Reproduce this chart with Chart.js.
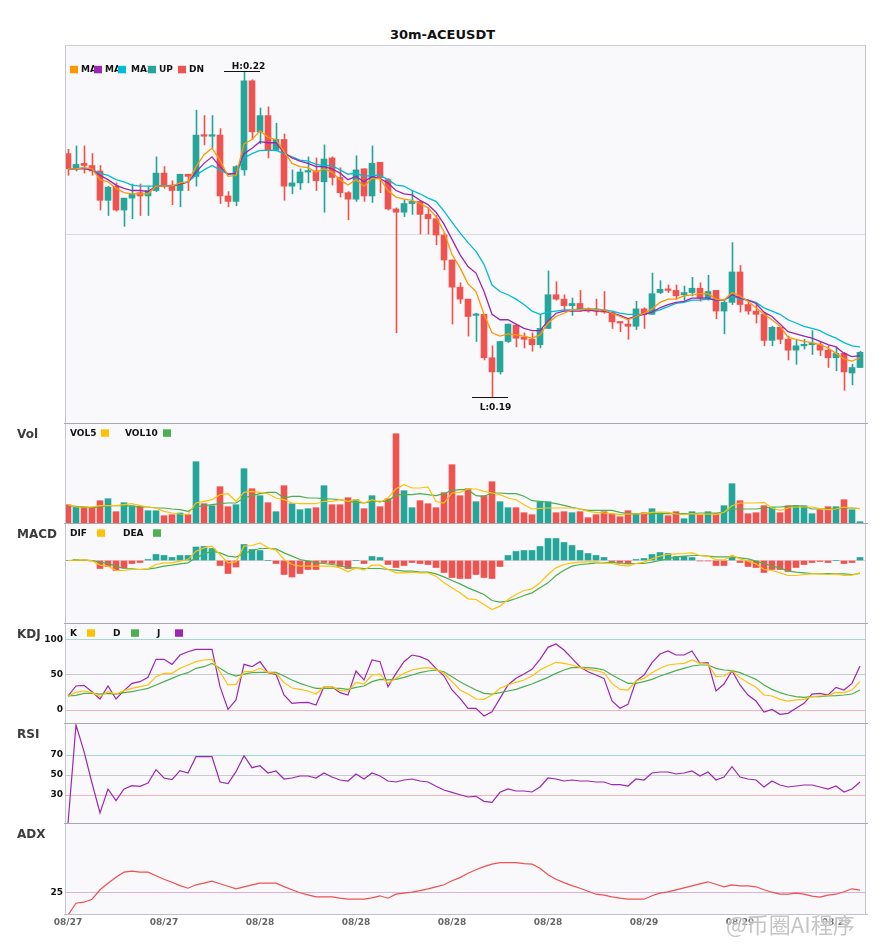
<!DOCTYPE html>
<html>
<head>
<meta charset="utf-8">
<title>30m-ACEUSDT</title>
<script src="https://cdn.jsdelivr.net/npm/chart.js@4.4.1/dist/chart.umd.min.js"></script>
<style>
  body { margin: 0; background: #fff; width: 885px; height: 950px; position: relative; overflow: hidden; font-family: "DejaVu Sans", sans-serif; }
  #title { position: absolute; top: 27px; left: 0; width: 885px; text-align: center; font-weight: bold; font-size: 13px; line-height: 15px; color: #111; }
  canvas { position: absolute; left: 0; display: block; }
  #mark { position: absolute; left: 726px; top: 909px; font-family: "Noto Sans CJK SC", sans-serif; font-size: 22px; line-height: 28px; color: rgba(150,150,150,0.55); text-shadow: 0 0 2px #fff, 0 0 2px #fff; white-space: nowrap; }
</style>
</head>
<body>
<div id="title">30m-ACEUSDT</div>
<canvas id="mainChart" width="885" height="379" style="top:45px"></canvas>
<canvas id="volChart" width="885" height="100" style="top:424px"></canvas>
<canvas id="macdChart" width="885" height="100" style="top:524px"></canvas>
<canvas id="kdjChart" width="885" height="100" style="top:624px"></canvas>
<canvas id="rsiChart" width="885" height="100" style="top:724px"></canvas>
<canvas id="adxChart" width="885" height="126" style="top:824px"></canvas>
<div id="mark">@币圈AI程序</div>
<script>
// datos, velas de 30m
const opens = [
 0.2125,0.2111,0.2116,0.2114,0.2109,0.2082,0.2095,0.2073,0.2084,0.2089,
 0.2086,0.2091,0.2107,0.2096,0.2091,0.2106,0.2104,0.2142,0.2141,0.2142,
 0.2086,0.2081,0.2110,0.2192,0.2145,0.2160,0.2128,0.2138,0.2095,0.2098,
 0.2108,0.2109,0.2099,0.2121,0.2103,0.2089,0.2083,0.2111,0.2086,0.2117,
 0.2101,0.2074,0.2071,0.2079,0.2081,0.2069,0.2065,0.2050,0.2027,0.2002,
 0.1991,0.1976,0.1977,0.1937,0.1924,0.1952,0.1967,0.1956,0.1954,0.1949,
 0.1964,0.1995,0.1991,0.1985,0.1987,0.1982,0.1981,0.1981,0.1979,0.1970,
 0.1968,0.1966,0.1982,0.1977,0.1997,0.2000,0.1999,0.1995,0.1997,0.2001,
 0.1992,0.1999,0.1980,0.1988,0.2016,0.1986,0.1980,0.1977,0.1953,0.1965,
 0.1954,0.1944,0.1948,0.1949,0.1949,0.1944,0.1937,0.1941,0.1923,0.1928]
const highs = [
 0.2129,0.2132,0.2132,0.2125,0.2114,0.2095,0.2098,0.2084,0.2097,0.2097,
 0.2095,0.2122,0.2113,0.2100,0.2106,0.2106,0.2165,0.2160,0.2160,0.2148,
 0.2090,0.2114,0.2200,0.2193,0.2167,0.2168,0.2153,0.2143,0.2110,0.2111,
 0.2122,0.2121,0.2133,0.2122,0.2112,0.2090,0.2123,0.2111,0.2132,0.2117,
 0.2102,0.2075,0.2082,0.2091,0.2082,0.2075,0.2068,0.2052,0.2027,0.2006,
 0.1991,0.1978,0.1977,0.1948,0.1952,0.1968,0.1967,0.1960,0.1960,0.1977,
 0.2017,0.2007,0.1995,0.1992,0.1999,0.1983,0.1991,0.1998,0.1979,0.1970,
 0.1972,0.1989,0.1983,0.2015,0.2008,0.2004,0.2004,0.2003,0.2011,0.2006,
 0.2013,0.1999,0.1991,0.2043,0.2022,0.1989,0.1987,0.1978,0.1966,0.1965,
 0.1957,0.1953,0.1954,0.1962,0.1952,0.1948,0.1947,0.1942,0.1931,0.1943]
const lows = [
 0.2105,0.2109,0.2107,0.2105,0.2073,0.2068,0.2072,0.2058,0.2065,0.2068,
 0.2068,0.2090,0.2093,0.2078,0.2076,0.2091,0.2095,0.2133,0.2130,0.2079,
 0.2076,0.2077,0.2105,0.2138,0.2134,0.2121,0.2128,0.2082,0.2088,0.2092,
 0.2098,0.2091,0.2071,0.2096,0.2085,0.2064,0.2081,0.2081,0.2080,0.2089,
 0.2073,0.1960,0.2067,0.2069,0.2051,0.2051,0.2041,0.2018,0.1968,0.1987,
 0.1957,0.1952,0.1935,0.1901,0.1922,0.1951,0.1947,0.1946,0.1943,0.1946,
 0.1964,0.1990,0.1981,0.1976,0.1980,0.1979,0.1976,0.1978,0.1964,0.1961,
 0.1954,0.1963,0.1964,0.1977,0.1996,0.1997,0.1991,0.1990,0.1994,0.1989,
 0.1990,0.1973,0.1959,0.1986,0.1979,0.1977,0.1969,0.1948,0.1948,0.1950,
 0.1935,0.1931,0.1945,0.1940,0.1939,0.1928,0.1925,0.1907,0.1912,0.1928]
const closes = [
 0.2111,0.2115,0.2114,0.2109,0.2082,0.2094,0.2073,0.2084,0.2088,0.2086,
 0.2091,0.2107,0.2095,0.2091,0.2106,0.2104,0.2142,0.2141,0.2142,0.2086,
 0.2081,0.2113,0.2192,0.2145,0.2160,0.2128,0.2138,0.2095,0.2098,0.2108,
 0.2109,0.2100,0.2120,0.2103,0.2089,0.2083,0.2110,0.2086,0.2116,0.2103,
 0.2074,0.2071,0.2079,0.2081,0.2069,0.2065,0.2050,0.2027,0.2002,0.1991,
 0.1975,0.1977,0.1937,0.1924,0.1952,0.1968,0.1955,0.1954,0.1949,0.1964,
 0.1995,0.1991,0.1985,0.1987,0.1981,0.1980,0.1980,0.1979,0.1970,0.1969,
 0.1966,0.1982,0.1977,0.1996,0.2000,0.1999,0.1994,0.1997,0.2001,0.1992,
 0.1998,0.1980,0.1988,0.2016,0.1986,0.1980,0.1977,0.1953,0.1965,0.1954,
 0.1944,0.1948,0.1949,0.1950,0.1944,0.1937,0.1941,0.1924,0.1928,0.1942]

const ma5 = [
 0.2111,0.2111,0.2112,0.2111,0.2101,0.2099,0.2093,0.2089,0.2088,0.2088,
 0.2088,0.2095,0.2095,0.2095,0.2098,0.2099,0.2113,0.2124,0.2130,0.2119,
 0.2104,0.2105,0.2134,0.2138,0.2146,0.2140,0.2138,0.2127,0.2116,0.2113,
 0.2112,0.2108,0.2111,0.2108,0.2101,0.2096,0.2101,0.2095,0.2102,0.2102,
 0.2091,0.2085,0.2083,0.2082,0.2079,0.2075,0.2067,0.2053,0.2032,0.2020,
 0.2005,0.1998,0.1977,0.1960,0.1957,0.1959,0.1958,0.1957,0.1955,0.1958,
 0.1969,0.1975,0.1978,0.1981,0.1981,0.1982,0.1981,0.1981,0.1978,0.1975,
 0.1972,0.1975,0.1978,0.1982,0.1988,0.1991,0.1991,0.1994,0.1995,0.1996,
 0.1996,0.1991,0.1990,0.1997,0.1994,0.1989,0.1983,0.1977,0.1972,0.1966,
 0.1956,0.1954,0.1952,0.1951,0.1949,0.1946,0.1941,0.1936,0.1934,0.1937]
const ma10 = [
 0.2111,0.2111,0.2111,0.2110,0.2105,0.2101,0.2096,0.2093,0.2091,0.2091,
 0.2090,0.2095,0.2095,0.2095,0.2097,0.2099,0.2108,0.2116,0.2122,0.2113,
 0.2106,0.2107,0.2125,0.2130,0.2136,0.2135,0.2135,0.2126,0.2121,0.2118,
 0.2116,0.2113,0.2113,0.2111,0.2107,0.2101,0.2104,0.2099,0.2104,0.2102,
 0.2098,0.2091,0.2088,0.2087,0.2082,0.2078,0.2071,0.2060,0.2046,0.2032,
 0.2021,0.2015,0.1998,0.1977,0.1972,0.1972,0.1968,0.1964,0.1962,0.1962,
 0.1971,0.1978,0.1980,0.1980,0.1980,0.1981,0.1980,0.1980,0.1978,0.1976,
 0.1973,0.1975,0.1977,0.1979,0.1983,0.1986,0.1988,0.1989,0.1992,0.1992,
 0.1992,0.1990,0.1990,0.1995,0.1992,0.1990,0.1987,0.1979,0.1975,0.1968,
 0.1961,0.1959,0.1957,0.1955,0.1952,0.1949,0.1947,0.1941,0.1938,0.1939]
const ma20 = [
 0.2111,0.2111,0.2112,0.2110,0.2107,0.2105,0.2101,0.2099,0.2096,0.2095,
 0.2095,0.2095,0.2096,0.2095,0.2097,0.2099,0.2105,0.2110,0.2114,0.2110,
 0.2106,0.2107,0.2121,0.2125,0.2128,0.2128,0.2128,0.2125,0.2122,0.2119,
 0.2118,0.2115,0.2114,0.2114,0.2110,0.2106,0.2107,0.2104,0.2105,0.2105,
 0.2101,0.2096,0.2095,0.2091,0.2088,0.2084,0.2081,0.2072,0.2062,0.2052,
 0.2043,0.2035,0.2023,0.2004,0.1998,0.1995,0.1991,0.1986,0.1980,0.1977,
 0.1979,0.1980,0.1981,0.1981,0.1982,0.1982,0.1982,0.1981,0.1980,0.1978,
 0.1977,0.1977,0.1977,0.1979,0.1981,0.1984,0.1987,0.1988,0.1990,0.1990,
 0.1991,0.1990,0.1990,0.1994,0.1991,0.1990,0.1988,0.1983,0.1980,0.1977,
 0.1972,0.1969,0.1966,0.1964,0.1962,0.1958,0.1955,0.1951,0.1948,0.1947]

// volumen (miles)
const volumes = [
 193,170,170,160,233,253,123,213,183,177,
 133,133,83,93,110,93,623,203,183,373,
 173,193,553,353,283,213,123,383,203,143,
 153,163,383,193,193,263,243,153,283,173,
 253,903,333,163,233,203,163,313,593,283,
 353,223,283,423,223,163,163,113,93,223,
 223,113,123,113,123,63,93,123,103,73,
 133,103,113,153,113,83,123,53,123,93,
 123,103,183,403,233,103,113,183,163,113,
 183,183,183,103,143,173,173,243,143,23]
const vol5 = [
 193,170,170,170,183,183,183,193,203,183,
 170,160,127,110,100,95,210,227,243,293,
 303,227,317,327,317,303,260,243,210,203,
 203,203,227,227,243,227,243,210,243,217,
 260,353,393,360,360,370,225,210,310,317,
 350,350,327,310,293,260,243,193,150,157,
 160,160,160,160,150,127,117,110,103,93,
 100,100,103,117,120,117,100,93,103,93,
 100,93,117,183,210,210,210,217,160,137,
 160,170,170,170,153,143,150,170,160,153]
const vol10 = [
 183,177,170,163,170,183,183,183,177,170,
 170,160,160,150,143,127,170,183,193,203,
 210,210,260,283,303,317,317,260,277,277,
 260,260,253,250,243,227,217,210,227,227,
 227,293,293,293,303,293,283,303,337,343,
 343,283,277,310,310,303,303,277,233,227,
 217,203,187,167,150,137,137,137,137,117,
 103,103,103,103,103,103,103,103,103,110,
 110,110,117,150,150,150,150,160,170,170,
 177,183,177,150,150,150,150,160,160,153]

const macdHist = [
 0,0.00002,0.00001,-0.00001,-0.00016,-0.00012,-0.0002,-0.00015,-0.00006,-0.00004,
 0.00002,0.00012,0.0001,0.00006,0.0001,0.0001,0.00027,0.00028,0.00024,-0.0001,
 -0.00026,-0.00013,0.00032,0.00022,0.0002,0,-0.00006,-0.00028,-0.00033,-0.00026,
 -0.00018,-0.00018,-0.00004,-0.00006,-0.00012,-0.00016,0,-0.00006,0.00008,0.00006,
 -0.00008,-0.00014,-0.0001,-0.00004,-0.00006,-0.00008,-0.00014,-0.00024,-0.00034,-0.00036,
 -0.00036,-0.00028,-0.00034,-0.00036,-0.00012,0.0001,0.00018,0.0002,0.0002,0.00028,
 0.00044,0.00044,0.00036,0.0003,0.0002,0.00014,0.0001,0.00006,-0.00002,-0.00004,
 -0.00006,0.00002,0.00004,0.00012,0.00016,0.00014,0.00008,0.00008,0.00006,-0.00001,
 -0.00001,-0.0001,-0.0001,0.00006,-0.00004,-0.00012,-0.00014,-0.00024,-0.00018,-0.00018,
 -0.00022,-0.00014,-0.00008,-0.00004,-0.00002,-0.00004,0,-0.00006,-0.00004,0.00006]
const dif = [
 0,0.000007,0.000013,-0.000007,-0.000093,-0.000113,-0.0002,-0.0002,-0.00018,-0.00018,
 -0.000167,-0.00008,-0.000047,-0.000047,-0.000013,0.00002,0.000187,0.000253,0.000287,0.00012,
 -0.000047,-0.000027,0.000287,0.0003,0.000353,0.000253,0.000207,0.00002,-0.00008,-0.000113,
 -0.000113,-0.000113,-0.000113,-0.000113,-0.000147,-0.000227,-0.000147,-0.000193,-0.000093,-0.000093,
 -0.00018,-0.000247,-0.000247,-0.000233,-0.000247,-0.000247,-0.000313,-0.000447,-0.000547,-0.000647,
 -0.000767,-0.00078,-0.00088,-0.00098,-0.000913,-0.00078,-0.00068,-0.0006,-0.000567,-0.000447,
 -0.00028,-0.000147,-0.00008,-0.000047,-0.000033,-0.000027,-0.000027,-0.000047,-0.00006,-0.000093,
 -0.000113,-0.00006,-0.000033,0.000033,0.000087,0.00012,0.000133,0.00014,0.000153,0.0001,
 0.000087,0.00002,0.000007,0.000107,0.000033,-0.000013,-0.000067,-0.00018,-0.0002,-0.000247,
 -0.0003,-0.0003,-0.00028,-0.000267,-0.000267,-0.00028,-0.000267,-0.0003,-0.000293,-0.000247]
const dea = [
 0,0,0.000007,0,-0.000033,-0.00006,-0.000113,-0.00016,-0.000167,-0.00018,
 -0.000173,-0.000147,-0.000113,-0.000093,-0.000067,-0.000047,0.000053,0.000133,0.000187,0.000153,
 0.000087,0.000067,0.00014,0.0002,0.00024,0.00024,0.000233,0.000153,0.000087,0.00002,
 -0.000013,-0.000047,-0.00006,-0.00008,-0.0001,-0.000147,-0.000147,-0.00016,-0.00016,-0.00016,
 -0.00018,-0.000193,-0.000213,-0.000213,-0.000233,-0.000233,-0.000267,-0.000327,-0.0004,-0.000467,
 -0.000547,-0.000613,-0.00068,-0.0008,-0.000833,-0.000813,-0.00076,-0.0007,-0.000647,-0.000547,
 -0.000447,-0.0003,-0.000193,-0.000113,-0.00008,-0.000067,-0.000047,-0.000047,-0.000033,-0.00006,
 -0.000067,-0.00006,-0.00006,-0.000033,0,0.000033,0.000073,0.000087,0.0001,0.0001,
 0.000087,0.000073,0.000073,0.000073,0.000053,0.000033,-0.000013,-0.00006,-0.000113,-0.000147,
 -0.000213,-0.000233,-0.000247,-0.00026,-0.000267,-0.00026,-0.000267,-0.000267,-0.00028,-0.00026]

const kLine = [
 19.8,25.0,26.9,24.5,18.9,25.9,22.6,27.4,30.7,33.0,
 35.4,47.2,51.9,51.9,59.0,63.7,68.4,70.8,71.7,54.2,
 35.4,36.3,54.2,54.2,59.0,53.3,51.9,38.7,31.1,29.2,
 26.9,22.6,33.0,33.0,27.4,26.9,39.2,36.8,49.5,50.9,
 37.7,44.8,51.9,56.6,59.0,59.9,57.5,51.9,40.1,28.3,
 22.6,15.6,15.1,21.2,30.7,35.4,39.2,42.5,48.1,56.6,
 62.3,67.5,66.0,63.7,60.4,57.5,55.7,52.8,37.7,29.2,
 28.3,41.0,44.8,52.8,59.0,63.7,65.1,66.0,70.8,66.0,
 65.1,47.2,48.1,55.7,45.8,38.7,32.1,21.2,19.8,15.1,
 12.7,14.2,15.1,18.9,19.8,20.3,25.0,24.5,28.3,40.1]
const dLine = [
 19.8,20.8,23.6,23.6,22.6,23.6,22.6,24.5,25.9,28.3,
 30.7,35.4,40.1,44.8,49.5,52.8,59.0,61.3,66.0,59.0,
 51.9,48.1,50.9,52.8,53.3,53.3,53.3,48.1,42.5,37.7,
 34.0,30.7,30.7,30.7,30.7,29.2,32.1,34.0,40.1,43.4,
 42.5,43.4,46.2,49.5,52.8,55.2,56.6,54.2,47.2,40.1,
 34.0,28.3,23.6,22.6,24.5,26.9,29.2,33.0,36.8,41.5,
 46.2,51.9,56.6,59.9,60.4,59.9,59.0,56.6,49.5,43.4,
 37.7,37.7,40.1,43.4,48.1,51.9,55.7,59.0,62.3,63.7,
 63.7,59.0,56.6,55.7,52.8,48.1,43.4,35.4,29.2,24.5,
 21.2,18.9,17.9,18.9,18.9,19.8,20.3,21.2,22.6,28.3]
const jLine = [
 19.8,34.0,34.9,25.9,15.6,34.0,15.6,27.4,37.7,40.1,
 46.2,71.7,71.7,64.6,77.8,82.5,85.8,85.8,85.8,33.0,
 0.9,14.2,64.6,61.3,68.4,52.8,50.5,21.2,9.4,10.4,
 10.8,7.1,33.0,33.0,24.5,21.2,55.2,42.5,70.8,68.4,
 33.0,51.9,68.4,77.8,75.5,70.8,59.0,48.1,28.3,16.5,
 2.4,2.4,-8.5,-2.4,16.5,35.4,44.8,50.9,57.5,71.7,
 88.7,93.4,84.9,73.1,61.3,54.2,49.5,44.8,12.7,2.4,
 8.0,41.0,49.5,67.0,79.2,83.5,77.8,77.8,83.5,66.0,
 67.0,26.9,36.8,55.7,35.4,21.2,12.7,-2.8,0.9,-6.1,
 -4.7,2.4,9.4,22.6,23.6,21.2,32.1,28.3,37.7,62.3]

const rsi = [
 1.5,100,73.7,42,12,36,24.3,36,39.3,38.7,
 42,55.3,47,45.3,54.3,52,68.3,68.3,68.3,43,
 41.3,53.3,69.3,57.3,59.3,52,54,46,47,49,
 49,47,52,48,45,44,51,46,52,49,
 44,43,45,46,44,43,38.7,35,32.7,30.3,
 28,28.7,23.7,22.7,32.7,36,34,34,33,38,
 47,46,44,45,44,44,43,43,40.3,40.3,
 39,46,45,52,53,53,51,52,54,49,
 53,45,48,58.3,48,46,45,38,44,40,
 38,39,40,40,38,36,39,33,36,43]

const adx = [
 13.6,19.5,20,21.5,26.2,29.5,32.5,35,35.5,35,
 35,33.2,31.5,30,28.3,27,28.7,29.5,30.5,29.2,
 28,26.7,27.7,28.7,29.5,29.5,29.5,27.8,26.2,24.7,
 23.7,22.7,22.7,22.7,22,21.5,21.5,21.5,22.2,23.2,
 22,24,24.5,25,25.8,26.7,27.7,28.7,30.7,32.3,
 34.5,36.2,37.8,39,39.8,39.8,39.8,39.3,39,37,
 33.7,31.5,29.8,28.3,27,25.5,24,23.5,22.7,22,
 21.5,21.5,21.5,23.2,24.5,25.2,26.2,27.2,28.2,29.2,
 30.2,29,27.7,28.7,28.2,28.2,27.7,26.2,25,24,
 24,24.5,24,23,22.5,23.5,24,25.2,26.7,26]

const xTickLabels = ['08/27','08/27','08/28','08/28','08/28','08/28','08/29','08/29','08/29']
const xTickStep = 12

// colores
const UP = '#26a69a'
const DN = '#ef5350'
const YELLOW = '#ffc107'
const GREEN = '#4caf50'
const PURPLE = '#9c27b0'

const candleColor = closes.map((c, i) => c >= opens[i] ? UP : DN)
const pts = arr => arr.map((v, i) => ({ x: i, y: v }))
const X_MIN = -0.25, X_MAX = 99.75

function xScale(extra) {
    return Object.assign({
        type: 'linear', display: false, min: X_MIN, max: X_MAX, offset: false,
        grid: { display: false }
    }, extra || {})
}

function yScale(min, max, lines, colors) {
    const s = {
        type: 'linear', position: 'left', min: min, max: max,
        afterFit: sc => { sc.width = 66 },
        ticks: { display: false },
        border: { display: false },
        grid: { display: false, drawTicks: false }
    }
    if (lines && lines.length) {
        s.afterBuildTicks = sc => { sc.ticks = lines.map(v => ({ value: v })) }
        s.grid = {
            display: true, drawTicks: false, lineWidth: 1,
            color: c => (colors && colors[c.tick.value]) || '#dcdce2'
        }
    }
    return s
}

function line(data, color, width) {
    return {
        type: 'line', data: pts(data), borderColor: color, borderWidth: width || 1.3,
        pointRadius: 0, tension: 0, fill: false, order: 0
    }
}

function drawLegend(ctx, lg) {
    ctx.font = 'bold 9px "DejaVu Sans"'
    ctx.textAlign = 'left'
    ctx.textBaseline = 'middle'
    lg.items.forEach(it => {
        if (it.box !== undefined) {
            ctx.fillStyle = it.color
            ctx.fillRect(it.box, lg.boxY, 8, 7.5)
        } else {
            ctx.save()
            if (it.clip) {
                ctx.beginPath()
                ctx.rect(it.x, 0, it.clip - it.x, 60)
                ctx.clip()
            }
            ctx.fillStyle = '#111'
            ctx.fillText(it.text, it.x, lg.textY)
            ctx.restore()
        }
    })
}

// fondo, marco, nombre del panel, etiquetas y leyenda
function panelDecor(cfg) {
    return {
        id: 'panelDecor',
        beforeDraw(chart) {
            const { ctx, chartArea: a } = chart
            ctx.save()
            ctx.fillStyle = '#f9f9fb'
            ctx.fillRect(a.left, a.top, a.right - a.left, a.bottom - a.top)
            ctx.restore()
        },
        afterDraw(chart) {
            const { ctx, chartArea: a } = chart
            const y = chart.scales.y
            ctx.save()
            ctx.lineWidth = 1
            ctx.strokeStyle = '#c4c4cc'
            ctx.beginPath()
            ctx.moveTo(a.left - 0.5, a.top)
            ctx.lineTo(a.left - 0.5, a.bottom)
            ctx.moveTo(a.right - 0.5, a.top)
            ctx.lineTo(a.right - 0.5, a.bottom)
            ctx.stroke()
            if (cfg.topLine) {
                ctx.strokeStyle = '#cfcfd6'
                ctx.beginPath()
                ctx.moveTo(a.left - 1, a.top + 0.5)
                ctx.lineTo(a.right, a.top + 0.5)
                ctx.stroke()
            }
            ctx.strokeStyle = cfg.bottomColor || '#a9a9b0'
            ctx.beginPath()
            ctx.moveTo(a.left - 2, a.bottom - 0.5)
            ctx.lineTo(a.right + 2, a.bottom - 0.5)
            ctx.stroke()

            if (cfg.name) {
                ctx.fillStyle = '#3c3c3c'
                ctx.font = 'bold 12px "DejaVu Sans"'
                ctx.textAlign = 'left'
                ctx.textBaseline = 'middle'
                ctx.fillText(cfg.name, 17, 11)
            }
            if (cfg.yLabels) {
                ctx.font = 'bold 9px "DejaVu Sans"'
                ctx.fillStyle = '#111'
                ctx.textAlign = 'right'
                ctx.textBaseline = 'middle'
                cfg.yLabels.forEach(v => ctx.fillText(String(v), 63, y.getPixelForValue(v)))
            }
            if (cfg.legend) drawLegend(ctx, cfg.legend)
            ctx.restore()
        }
    }
}

// marcas de maximo y minimo
const extremaMarks = {
    id: 'extremaMarks',
    afterDatasetsDraw(chart) {
        const { ctx } = chart
        const x = chart.scales.x, y = chart.scales.y
        const hi = Math.max(...highs), lo = Math.min(...lows)
        const hx = x.getPixelForValue(highs.indexOf(hi))
        const lx = x.getPixelForValue(lows.indexOf(lo))
        const hy = Math.floor(y.getPixelForValue(hi)) - 0.5
        const ly = Math.round(y.getPixelForValue(lo)) + 0.5
        ctx.save()
        ctx.strokeStyle = '#111'
        ctx.lineWidth = 1
        ctx.beginPath()
        ctx.moveTo(hx - 20, hy); ctx.lineTo(hx + 16, hy)
        ctx.moveTo(lx - 20, ly); ctx.lineTo(lx + 16, ly)
        ctx.stroke()
        ctx.fillStyle = '#111'
        ctx.font = 'bold 9px "DejaVu Sans"'
        ctx.textAlign = 'center'
        ctx.textBaseline = 'alphabetic'
        ctx.fillText('H:' + hi.toFixed(2), hx + 4.5, hy - 2.5)
        ctx.fillText('L:' + lo.toFixed(2), lx + 3.5, ly + 12)
        ctx.restore()
    }
}

function makeChart(id, datasets, scales, decor, extraPlugins) {
    return new Chart(document.getElementById(id), {
        type: 'bar',
        data: { datasets: datasets },
        options: {
            responsive: false,
            animation: false,
            events: [],
            layout: { padding: { left: 0, right: 19, top: 0, bottom: 0 } },
            plugins: { legend: { display: false }, tooltip: { enabled: false } },
            scales: scales
        },
        plugins: [panelDecor(decor)].concat(extraPlugins || [])
    })
}

// Grafico de velas
makeChart('mainChart', [
    line(ma5, '#ff9800'),
    line(ma10, PURPLE),
    line(ma20, '#00bcd4'),
    {
        type: 'bar', data: opens.map((o, i) => ({ x: i, y: [o, closes[i]] })),
        backgroundColor: candleColor, barThickness: 6, minBarLength: 1.5,
        grouped: false, order: 1
    },
    {
        type: 'bar', xAxisID: 'xw', data: lows.map((l, i) => ({ x: i, y: [l, highs[i]] })),
        backgroundColor: candleColor, barThickness: 1, grouped: false, order: 2
    }
], {
    x: xScale(),
    xw: xScale({ min: X_MIN - 0.0625, max: X_MAX - 0.0625 }),
    y: yScale(0.1876, 0.2225, [0.20505])
}, {
    topLine: true,
    legend: {
        boxY: 20.8, textY: 24.6, items: [
            { box: 70, color: '#ff9800' }, { text: 'MA5', x: 81, clip: 94 },
            { box: 94, color: PURPLE }, { text: 'MA10', x: 105, clip: 118 },
            { box: 118, color: '#00bcd4' }, { text: 'MA20', x: 131, clip: 148 },
            { box: 148, color: UP }, { text: 'UP', x: 159 },
            { box: 178, color: DN }, { text: 'DN', x: 189 }
        ]
    }
}, [extremaMarks])

// Volumen
makeChart('volChart', [
    line(vol5, YELLOW, 1.2),
    line(vol10, GREEN, 1.2),
    { type: 'bar', data: pts(volumes), backgroundColor: candleColor, barThickness: 6, grouped: false, order: 1 }
], {
    x: xScale(),
    y: yScale(0, 1000)
}, {
    name: 'Vol',
    legend: {
        boxY: 5.3, textY: 9.6, items: [
            { text: 'VOL5', x: 70 }, { box: 101, color: YELLOW },
            { text: 'VOL10', x: 125 }, { box: 163, color: GREEN }
        ]
    }
})

// MACD
makeChart('macdChart', [
    line(dif, YELLOW, 1.2),
    line(dea, GREEN, 1.2),
    {
        type: 'bar', data: pts(macdHist), backgroundColor: macdHist.map(v => v >= 0 ? UP : DN),
        barThickness: 6, grouped: false, order: 1
    }
], {
    x: xScale(),
    y: yScale(-0.00127, 0.00073, [0], { 0: '#d6d6da' })
}, {
    name: 'MACD',
    legend: {
        boxY: 5.3, textY: 9.6, items: [
            { text: 'DIF', x: 70 }, { box: 97, color: YELLOW },
            { text: 'DEA', x: 123 }, { box: 153, color: GREEN }
        ]
    }
})

// KDJ
makeChart('kdjChart', [
    line(kLine, YELLOW, 1.2),
    line(dLine, GREEN, 1.2),
    line(jLine, PURPLE, 1.2)
], {
    x: xScale(),
    y: yScale(-19.8, 121.7, [0, 50, 100], { 0: '#f6b4b4', 50: '#cbcbcf', 100: '#a5dad4' })
}, {
    name: 'KDJ',
    yLabels: [100, 50, 0],
    legend: {
        boxY: 5.3, textY: 9.6, items: [
            { text: 'K', x: 70 }, { box: 87, color: YELLOW },
            { text: 'D', x: 113 }, { box: 131, color: GREEN },
            { text: 'J', x: 157 }, { box: 175, color: PURPLE }
        ]
    }
})

// RSI
makeChart('rsiChart', [
    line(rsi, PURPLE, 1.2)
], {
    x: xScale(),
    y: yScale(1, 101, [30, 50, 70], { 30: '#f6b4b4', 50: '#cbcbcf', 70: '#a5dad4' })
}, {
    name: 'RSI',
    yLabels: [70, 50, 30]
})

// ADX con eje de fechas
makeChart('adxChart', [
    line(adx, '#f05050', 1.2)
], {
    x: xScale({
        display: true,
        afterFit: sc => { sc.height = 35 },
        afterBuildTicks: sc => { sc.ticks = xTickLabels.map((_, k) => ({ value: k * xTickStep })) },
        border: { display: false },
        grid: { display: false, drawTicks: false },
        ticks: {
            padding: 2, maxRotation: 0, autoSkip: false,
            color: '#666', font: { family: 'DejaVu Sans', size: 9, weight: 'bold' },
            callback: (v, i) => xTickLabels[i]
        }
    }),
    y: yScale(13.6, 59.1, [25], { 25: '#dcb0dc' })
}, {
    name: 'ADX',
    yLabels: [25],
    bottomColor: '#c2bfcc'
})
</script>
</body>
</html>
